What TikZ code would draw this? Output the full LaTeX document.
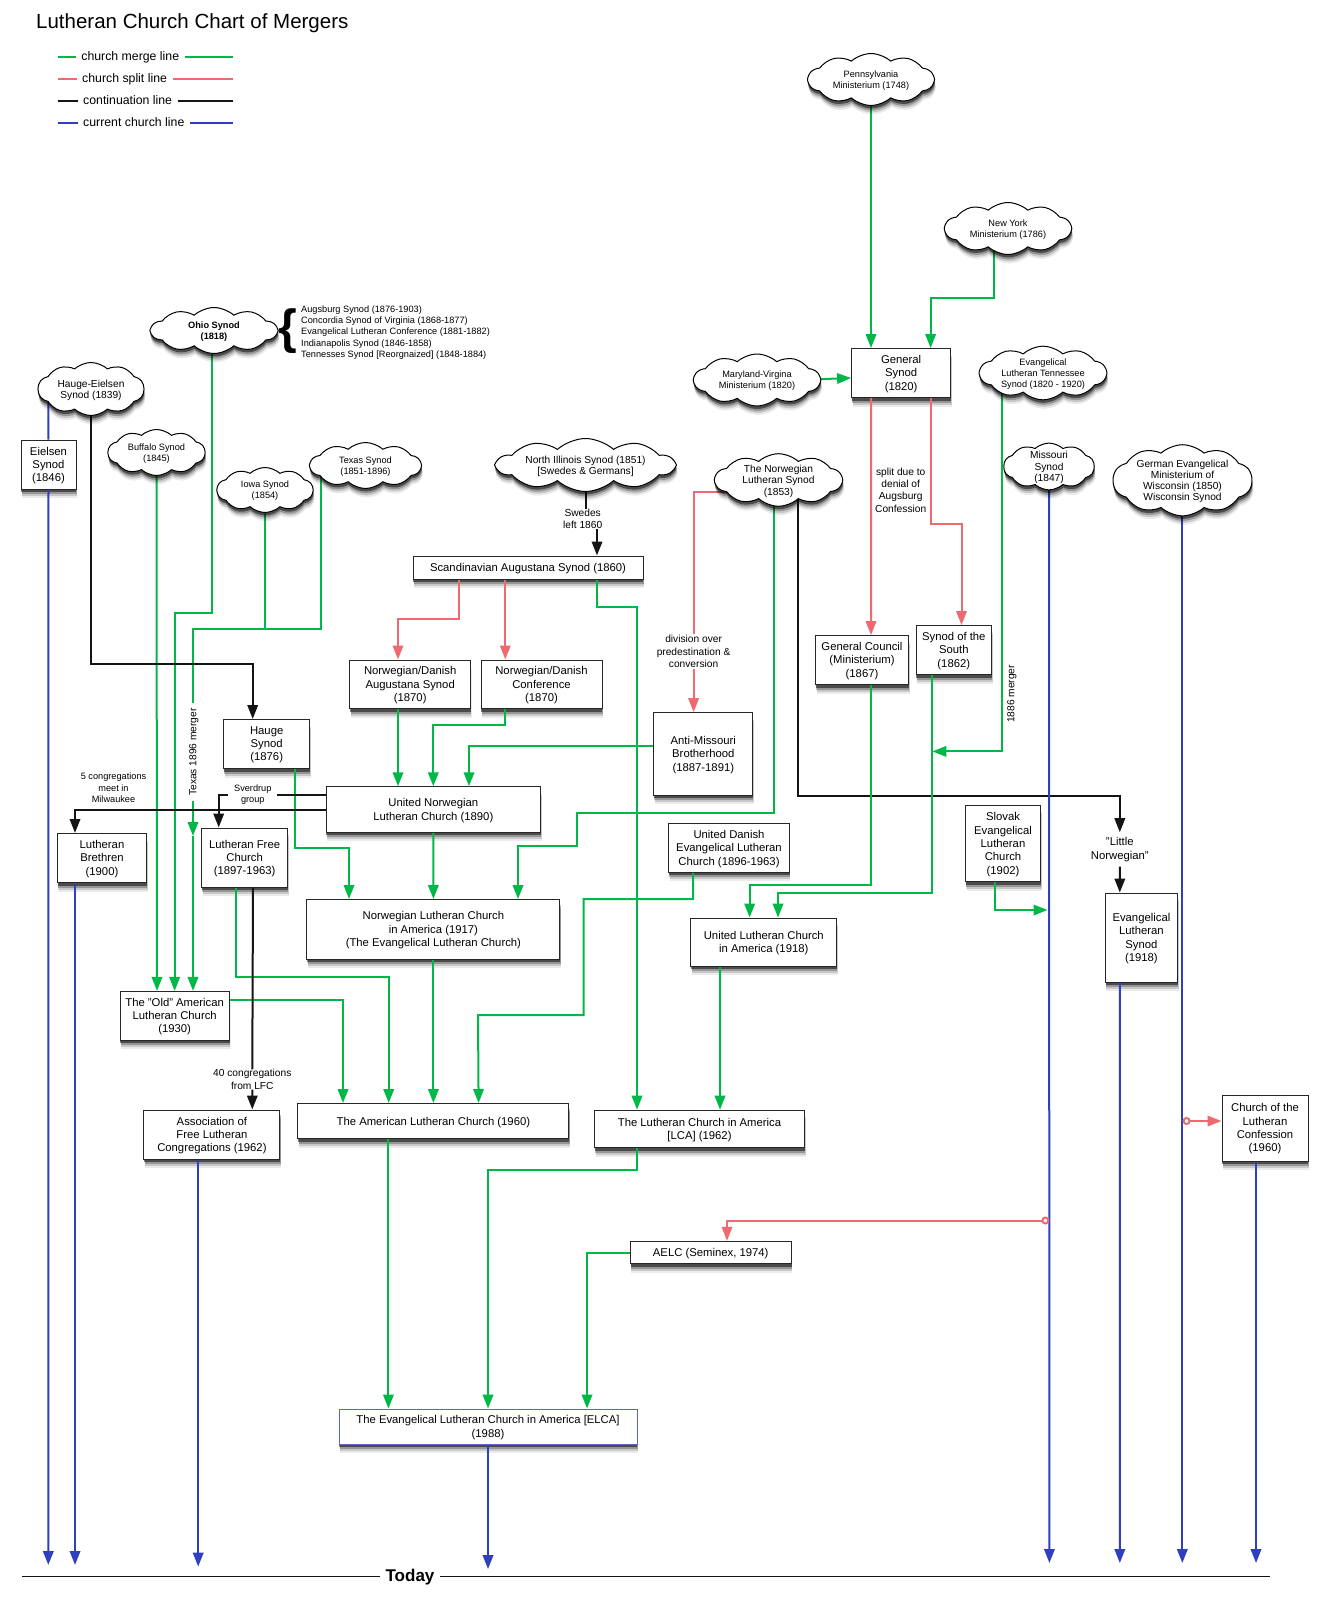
\documentclass[tikz,border=0pt]{standalone}
\usepackage{fontspec}
\setmainfont{Liberation Sans}
\usepackage{tikz}
\usetikzlibrary{arrows.meta,shapes.symbols,shadows,backgrounds}
\definecolor{mergecol}{RGB}{0,184,72}
\definecolor{splitcol}{RGB}{238,106,112}
\definecolor{contcol}{RGB}{20,20,20}
\definecolor{currentcol}{RGB}{47,63,191}
\tikzset{
  softshadow/.style={
    drop shadow={shadow xshift=1.2pt, shadow yshift=-9pt, opacity=.08, fill=black},
    drop shadow={shadow xshift=1pt, shadow yshift=-7pt, opacity=.15, fill=black},
    drop shadow={shadow xshift=.6pt, shadow yshift=-5pt, opacity=.25, fill=black},
    drop shadow={shadow xshift=.3pt, shadow yshift=-3pt, opacity=.5, fill=black}},
  box/.style={draw=black!85, line width=1pt, fill=white, softshadow, align=center, inner sep=0pt,
    font=\fontsize{11.3}{13.3}\selectfont, text depth=.4pt},
  cloudbox/.style={cloud, cloud puffs=10, cloud puff arc=85, cloud ignores aspect, draw=black, line width=1pt,
    fill=white, softshadow, align=center, inner sep=0pt, font=\fontsize{9.2}{11.3}\selectfont, text depth=0pt},
  bigcloud/.style={cloudbox, font=\fontsize{10.2}{11.3}\selectfont},
  note/.style={align=center, inner sep=0pt, font=\fontsize{10.2}{12.4}\selectfont},
  sidenote/.style={note, rotate=90, text depth=.4pt},
  smallnote/.style={note, font=\fontsize{9.2}{11.6}\selectfont},
  keytext/.style={anchor=west, inner xsep=5.5pt, inner ysep=0pt, font=\fontsize{12.3}{14}\selectfont, text depth=.4pt},
  line/.style={line width=2pt, -{Triangle[length=14pt,width=10.5pt]}},
  mergeline/.style={line, draw=mergecol},
  splitline/.style={line, draw=splitcol},
  contline/.style={line, draw=contcol},
  currentline/.style={line, draw=currentcol},
  openstart/.style={{Circle[open,fill=white,length=8pt,width=8pt]}-{Triangle[length=14pt,width=10.5pt]}}
}
\begin{document}
\begin{tikzpicture}[x=1pt,y=-1pt]
  \useasboundingbox (0,0) rectangle (1328,1600);

  % title and key
  \node[anchor=west, inner sep=0pt, font=\fontsize{20.5}{24}\selectfont] (title) at (36,23.5) {Lutheran Church Chart of Mergers};
  \coordinate (keyleft) at (58,0);
  \coordinate (keyright) at (233.3,0);
  \node[keytext] (mergekey) at (75.7,56.7) {church merge line};
  \node[keytext] (splitkey) at (76.5,78.7) {church split line};
  \node[keytext] (contkey) at (77.5,100.7) {continuation line};
  \node[keytext] (currentkey) at (77.5,122.7) {current church line};
  \draw[mergeline,-] (keyleft |- mergekey.west) -- (mergekey.west);
  \draw[mergeline,-] (mergekey.east) -- (keyright |- mergekey.east);
  \draw[splitline,-] (keyleft |- splitkey.west) -- (splitkey.west);
  \draw[splitline,-] (splitkey.east) -- (keyright |- splitkey.east);
  \draw[contline,-] (keyleft |- contkey.west) -- (contkey.west);
  \draw[contline,-] (contkey.east) -- (keyright |- contkey.east);
  \draw[currentline,-] (keyleft |- currentkey.west) -- (currentkey.west);
  \draw[currentline,-] (currentkey.east) -- (keyright |- currentkey.east);

  % clouds
  \node[cloudbox, minimum width=125.5pt, minimum height=52pt] (penn) at (871,79.5) {Pennsylvania\\Ministerium (1748)};
  \node[cloudbox, minimum width=126pt, minimum height=52pt] (newyork) at (1008,228.5) {New York\\Ministerium (1786)};
  \node[cloudbox, minimum width=126pt, minimum height=52pt] (maryland) at (757,380) {Maryland-Virgina\\Ministerium (1820)};
  \node[cloudbox, minimum width=126.5pt, minimum height=52pt] (tenn) at (1043,373) {Evangelical\\Lutheran Tennessee\\Synod (1820 - 1920)};
  \node[bigcloud, minimum width=90.6pt, minimum height=45pt] (missouri) at (1049,466.5) {Missouri\\Synod\\(1847)};
  \node[bigcloud, minimum width=139pt, minimum height=67.3pt] (wisconsin) at (1182.5,480.3) {German Evangelical\\Ministerium of\\Wisconsin (1850)\\Wisconsin Synod};
  \node[bigcloud, minimum width=127pt, minimum height=52.5pt] (norsyn) at (778.5,480) {The Norwegian\\Lutheran Synod\\(1853)};
  \node[bigcloud, minimum width=177pt, minimum height=53pt] (nillinois) at (585.5,465) {North Illinois Synod (1851)\\{[}Swedes \& Germans{]}};
  \node[cloudbox, minimum width=111pt, minimum height=46pt] (texas) at (365.5,465.5) {Texas Synod\\(1851-1896)};
  \node[cloudbox, minimum width=96pt, minimum height=45pt] (iowa) at (265,490) {Iowa Synod\\(1854)};
  \node[cloudbox, minimum width=97pt, minimum height=46pt] (buffalo) at (156.5,452.5) {Buffalo Synod\\(1845)};
  \node[cloudbox, minimum width=126pt, minimum height=46pt, font=\bfseries\fontsize{9.2}{11.3}\selectfont] (ohio) at (214,330.5) {Ohio Synod\\(1818)};
  \node[bigcloud, minimum width=106pt, minimum height=53pt] (heilsen) at (91,389) {Hauge-Eielsen\\Synod (1839)};

  \node[inner sep=0pt, font=\bfseries\fontsize{48}{48}\selectfont] (ohiobrace) at (288,331) {\{};
  \node[anchor=west, align=left, inner sep=0pt, font=\fontsize{9.2}{11.3}\selectfont] (ohiolist) at (301,332.5) {Augsburg Synod (1876-1903)\\Concordia Synod of Virginia (1868-1877)\\Evangelical Lutheran Conference (1881-1882)\\Indianapolis Synod (1846-1858)\\Tennesses Synod {[}Reorgnaized{]} (1848-1884)};

  % boxes
  \node[box, minimum width=55pt, minimum height=49pt] (eielsen) at (48.5,464.5) {Eielsen\\Synod\\(1846)};
  \node[box, minimum width=86pt, minimum height=49pt] (haugesyn) at (266.7,744) {Hauge\\Synod\\(1876)};
  \node[box, minimum width=230pt, minimum height=23pt] (scand) at (528,567.5) {Scandinavian Augustana Synod (1860)};
  \node[box, minimum width=120.5pt, minimum height=48.6pt] (ndaug) at (410.2,684.3) {Norwegian/Danish\\Augustana Synod\\(1870)};
  \node[box, minimum width=121pt, minimum height=48.6pt] (ndconf) at (541.5,684.3) {Norwegian/Danish\\Conference\\(1870)};
  \node[box, minimum width=99pt, minimum height=82.7pt] (antimo) at (703.3,754) {Anti-Missouri\\Brotherhood\\(1887-1891)};
  \node[box, minimum width=99pt, minimum height=49pt] (gensyn) at (901.1,373) {General\\Synod\\(1820)};
  \node[box, minimum width=93pt, minimum height=49pt] (gencouncil) at (862,660) {General Council\\(Ministerium)\\(1867)};
  \node[box, minimum width=75.6pt, minimum height=49pt] (sotsouth) at (953.8,650) {Synod of the\\South\\(1862)};
  \node[box, minimum width=214.5pt, minimum height=45.7pt] (unlc) at (433.3,809.6) {United Norwegian\\Lutheran Church (1890)};
  \node[box, minimum width=89.4pt, minimum height=49pt] (lbreth) at (102,858) {Lutheran\\Brethren\\(1900)};
  \node[box, minimum width=86pt, minimum height=59pt] (lfc) at (244.6,857.5) {Lutheran Free\\Church\\(1897-1963)};
  \node[box, minimum width=253pt, minimum height=59.6pt] (nlca) at (433.4,929.3) {Norwegian Lutheran Church\\in America (1917)\\(The Evangelical Lutheran Church)};
  \node[box, minimum width=109.3pt, minimum height=48.6pt] (oldam) at (174.65,1015.7) {The "Old" American\\Lutheran Church\\(1930)};
  \node[box, minimum width=120.5pt, minimum height=49pt] (udelc) at (729,847.8) {United Danish\\Evangelical Lutheran\\Church (1896-1963)};
  \node[box, minimum width=145.8pt, minimum height=48.4pt] (ulca) at (763.8,942.2) {United Lutheran Church\\in America (1918)};
  \node[box, minimum width=75.4pt, minimum height=76.7pt] (slovak) at (1003,843.6) {Slovak\\Evangelical\\Lutheran\\Church\\(1902)};
  \node[box, minimum width=72.3pt, minimum height=89pt] (els) at (1141.4,937.5) {Evangelical\\Lutheran\\Synod\\(1918)};
  \node[box, minimum width=136pt, minimum height=49pt] (assoc) at (211.9,1134.5) {Association of\\Free Lutheran\\Congregations (1962)};
  \node[box, minimum width=271pt, minimum height=35.4pt] (alc) at (433.4,1121.2) {The American Lutheran Church (1960)};
  \node[box, minimum width=210pt, minimum height=37.7pt] (lca) at (699.5,1129) {The Lutheran Church in America\\{[}LCA{]} (1962)};
  \node[box, minimum width=161pt, minimum height=22.5pt] (aelc) at (710.7,1252.5) {AELC (Seminex, 1974)};
  \node[box, minimum width=86pt, minimum height=66pt] (clc) at (1265,1128) {Church of the\\Lutheran\\Confession\\(1960)};
  \node[box, draw=currentcol!80, minimum width=298pt, minimum height=35pt] (elca) at (488,1426.5) {The Evangelical Lutheran Church in America {[}ELCA{]}\\(1988)};

  % labels on the lines
  \node[note] at (900.7,490) (augsburg) {split due to\\denial of\\Augsburg\\Confession};
  \node[note] (swedes) at (582.7,519) {Swedes\\left 1860};
  \node[note, inner ysep=1pt] (division) at (693.6,651.5) {division over\\predestination \&\\conversion};
  \node[sidenote, inner xsep=5pt] (texnote) at (193,752) {Texas 1896 merger};
  \node[sidenote] (ninety) at (1011,694) {1886 merger};
  \node[smallnote] (five) at (113.5,788) {5 congregations\\meet in\\Milwaukee};
  \node[smallnote, inner xsep=5.5pt] (sverdrup) at (252.8,794.5) {Sverdrup\\group};
  \node[note] (forty) at (252.3,1079.5) {40 congregations\\from LFC};
  \node[note, inner ysep=5pt, font=\fontsize{11.3}{13.4}\selectfont] (little) at (1119.8,849.4) {"Little\\Norwegian"};
  \node[inner xsep=5.5pt, inner ysep=0pt, font=\bfseries\fontsize{17}{20}\selectfont] (today) at (410,1576.6) {Today};

  % free ends
  \coordinate (texmid) at (193,836);
  \coordinate (txjoin) at (265,629);
  \coordinate (sothline) at (932.4,751.4);
  \coordinate (missline) at (1047.5,910);
  \coordinate (missopen) at (1049.4,1220.5);
  \coordinate (wisopen) at (1182.6,1121);
  \coordinate (endeielsen) at (48.3,1565);
  \coordinate (endbreth) at (75,1565);
  \coordinate (endassoc) at (198.2,1566.6);
  \coordinate (endelca) at (488,1569);
  \coordinate (endmiss) at (1049.4,1563);
  \coordinate (endels) at (1119.8,1563);
  \coordinate (endwis) at (1182.3,1563);
  \coordinate (endclc) at (1256,1563);
  \coordinate (todayleft) at (22.3,1576.6);
  \coordinate (todayright) at (1270,1576.6);

  % lines that leave a cloud run under it
  \begin{scope}[on background layer]
    \draw[mergeline] (penn.center) -- ([xshift=-30.1pt]gensyn.north);
    \draw[mergeline] ([xshift=-14.4pt]newyork.center) |- (930.6,298) -- ([xshift=29.5pt]gensyn.north);
    \draw[mergeline] ([yshift=-1.5pt]maryland.center) -- ([yshift=-5pt]gensyn.west);
    \draw[mergeline] ([xshift=-41pt]tenn.center) |- (sothline);
    \draw[mergeline] (buffalo.center) -- ([xshift=-17.65pt]oldam.north);
    \draw[mergeline] ([xshift=-1.7pt]ohio.center) |- (174.65,613) -- (oldam.north);
    \draw[mergeline,-] (iowa.center) -- (txjoin);
    \draw[mergeline,-] ([xshift=-44.5pt]texas.center) |- (193,629) -- (texnote.east);
    \draw[mergeline] ([xshift=-4.7pt]norsyn.center) |- (577,813.3) |- (518,846) -- ([xshift=84.6pt]nlca.north);
    \draw[splitline,-] ([yshift=-12.3pt]norsyn.center) -| (division.north);
    \draw[contline] ([xshift=19.3pt]norsyn.center) |- (1119.8,796) -- (little.north);
    \draw[contline,-] ([xshift=.2pt]nillinois.center) -- ([xshift=3pt]swedes.north);
    \draw[contline] (heilsen.center) |- (252.7,663.6) -- ([xshift=-14pt]haugesyn.north);
    \draw[currentline,-] ([xshift=-42.7pt]heilsen.center) -- (eielsen.north);
    \draw[currentline] (missouri.center) -- (endmiss);
    \draw[currentline] ([xshift=-.2pt]wisconsin.center) -- (endwis);
  \end{scope}

  % merges
  \draw[mergeline] (texnote.west) -- (texmid);
  \draw[mergeline] (texmid) -- ([xshift=18.35pt]oldam.north);
  \draw[mergeline] ([xshift=69pt]scand.south) |- (637,607) -- ([xshift=-62.5pt]lca.north);
  \draw[mergeline] ([xshift=-12.2pt]ndaug.south) -- ([xshift=-35.3pt]unlc.north);
  \draw[mergeline] ([xshift=-36.2pt]ndconf.south) |- (433.3,724.6) -- (unlc.north);
  \draw[mergeline] ([yshift=8.3pt]antimo.west) -| ([xshift=35.7pt]unlc.north);
  \draw[mergeline] ([xshift=28.7pt]haugesyn.south) |- (349,847.5) -- ([xshift=-84.4pt]nlca.north);
  \draw[mergeline] (unlc.south) -- (nlca.north);
  \draw[mergeline] ([xshift=-8.6pt]lfc.south) |- (388.7,977) -- ([xshift=-44.7pt]alc.north);
  \draw[mergeline] (nlca.south) -- (alc.north);
  \draw[mergeline] ([yshift=15.7pt]oldam.east) -| ([xshift=-90.4pt]alc.north);
  \draw[mergeline] ([xshift=-36pt]udelc.south) |- (583.6,899) |- (478,1015) -- ([xshift=45.2pt]alc.north);
  \draw[mergeline] ([xshift=9pt]gencouncil.south) |- (749.6,885.3) -- ([xshift=-14.2pt]ulca.north);
  \draw[mergeline] ([xshift=-22.3pt]sotsouth.south) |- (778,893) -- ([xshift=14.2pt]ulca.north);
  \draw[mergeline] ([xshift=-8pt]slovak.south) |- (missline);
  \draw[mergeline] ([xshift=-43.8pt]ulca.south) -- ([xshift=20.5pt]lca.north);
  \draw[mergeline] ([xshift=-62.5pt]lca.south) |- (488,1170) -- (elca.north);
  \draw[mergeline] ([xshift=-45pt]alc.south) -- ([xshift=-99.6pt]elca.north);
  \draw[mergeline] (aelc.west) -| ([xshift=99pt]elca.north);

  % splits
  \draw[splitline] ([xshift=-69pt]scand.south) |- (398,619.3) -- ([xshift=-12.2pt]ndaug.north);
  \draw[splitline] ([xshift=-22.7pt]scand.south) -- ([xshift=-36.2pt]ndconf.north);
  \draw[splitline] (division.south) -- ([xshift=-9.7pt]antimo.north);
  \draw[splitline] ([xshift=-30pt]gensyn.south) -- ([xshift=9pt]gencouncil.north);
  \draw[splitline] ([xshift=29.5pt]gensyn.south) |- (961.5,524) -- ([xshift=7.7pt]sotsouth.north);
  \draw[splitline, openstart] (missopen) -| ([xshift=16.3pt]aelc.north);
  \draw[splitline, openstart] (wisopen) -- ([yshift=7pt]clc.west);

  % continuations
  \draw[contline] ([xshift=14.3pt]swedes.south) -- ([xshift=69pt]scand.north);
  \draw[contline,-] (unlc.west |- sverdrup.east) -- (sverdrup.east);
  \draw[contline] (sverdrup.west) -| ([xshift=-25.9pt]lfc.north);
  \draw[contline] (unlc.west) -| ([xshift=-27pt]lbreth.north);
  \draw[contline,-] ([xshift=8.4pt]lfc.south) -- (forty.north);
  \draw[contline] (forty.south) -- ([xshift=40.4pt]assoc.north);
  \draw[contline] (little.south) -- ([xshift=-21.6pt]els.north);

  % current churches
  \draw[currentline] (eielsen.south) -- (endeielsen);
  \draw[currentline] ([xshift=-27pt]lbreth.south) -- (endbreth);
  \draw[currentline] ([xshift=-13.7pt]assoc.south) -- (endassoc);
  \draw[currentline] (elca.south) -- (endelca);
  \draw[currentline] ([xshift=-21.6pt]els.south) -- (endels);
  \draw[currentline] ([xshift=-9pt]clc.south) -- (endclc);

  % today rule
  \draw[line width=1pt, draw=contcol] (todayleft) -- (today.west);
  \draw[line width=1pt, draw=contcol] (today.east) -- (todayright);
\end{tikzpicture}
\end{document}
